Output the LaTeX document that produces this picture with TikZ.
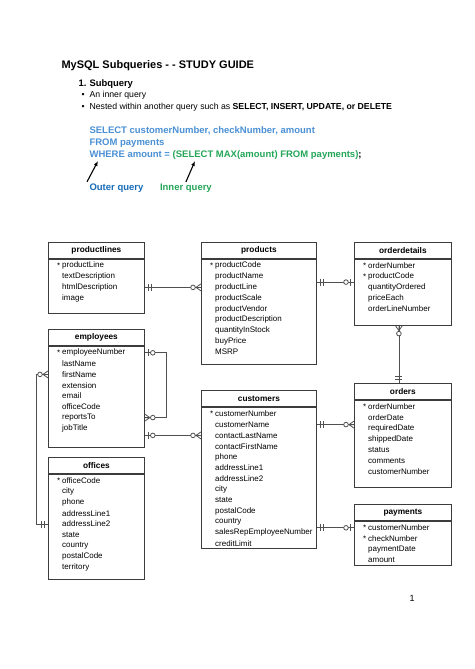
\documentclass[tikz,border=0pt]{standalone}
\usepackage{fontspec}
\setmainfont{Liberation Sans}
\usetikzlibrary{arrows.meta,positioning}
\definecolor{sqlblue}{RGB}{74,144,212}
\definecolor{outerblue}{RGB}{24,108,186}
\definecolor{sqlgreen}{RGB}{36,166,88}
\definecolor{boxgray}{RGB}{60,60,60}
\definecolor{linegray}{RGB}{80,80,80}
\newcommand{\fsz}[1]{\fontsize{#1}{#1}\selectfont}
% rows of a table: node name, number of key fields, field list
\newcommand{\tabrows}[3]{%
  \foreach \f [count=\i] in {#3} {
    \node[field] (#1-\i) at ([xshift=14pt,yshift={3.8-10.8*\i}]#1-b.north west) {\f};
    \ifnum\i>#2\relax\else\node[field,anchor=east] at ([xshift=-1.5pt]#1-\i.west) {*};\fi
  }}

\begin{document}
\begin{tikzpicture}[x=1pt,y=-1pt,>=Latex,
  tabhead/.style={draw=boxgray,line width=0.8pt,anchor=north west,minimum height=16pt,inner sep=0pt,font=\fsz{8.3}\bfseries},
  tabbody/.style={draw=boxgray,line width=0.8pt,inner sep=0pt},
  field/.style={anchor=west,inner sep=0pt,font=\fsz{8}},
  rel/.style={linegray,line width=0.8pt},
  one/.pic={\draw (3.5,-3.5)--(3.5,3.5) (6.5,-3.5)--(6.5,3.5);},
  zone/.pic={\draw (3.5,-3.5)--(3.5,3.5); \draw[fill=white] (8,0) circle (2.3);},
  zmany/.pic={\draw (0,-3.5)--(5,0)--(0,3.5) (0,0)--(5,0); \draw[fill=white] (8,0) circle (2.3);},
  arr/.style={-{Latex[length=5pt,width=4pt]},line width=1.1pt}]
\fill[white] (0,0) rectangle (474,669);

\node[anchor=base west,font=\fsz{11}\bfseries] (title) at (58,68) {MySQL Subqueries - - STUDY GUIDE};
\node[anchor=base west,font=\fsz{9.4}\bfseries] (num) at (75,86.5) {1.};
\node[anchor=base west,font=\fsz{9.4}\bfseries] (sub) at (86,86.5) {Subquery};
\node[anchor=base west,font=\fsz{8.7}] (b1) at (78,97.5) {•};
\node[anchor=base west,font=\fsz{8.7}] (t1) at (86,97.5) {An inner query};
\node[anchor=base west,font=\fsz{8.7}] (b2) at (78,109.5) {•};
\node[anchor=base west,font=\fsz{8.7}] (t2) at (86,109.5) {Nested within another query such as \textbf{SELECT, INSERT, UPDATE, or DELETE}};
\node[anchor=base west,font=\fsz{9.5}\bfseries,sqlblue] (q1) at (86,133.5) {SELECT customerNumber, checkNumber, amount};
\node[anchor=base west,font=\fsz{9.5}\bfseries,sqlblue] (q2) at (86,145) {FROM payments};
\node[anchor=base west,font=\fsz{9.5}\bfseries] (q3) at (86,157) {{\color{sqlblue}WHERE amount = }{\color{sqlgreen}(SELECT MAX(amount) FROM payments)};};
\node[anchor=base west,font=\fsz{9.5}\bfseries,outerblue] (outer) at (86,190) {Outer query};
\node[anchor=base west,font=\fsz{9.5}\bfseries,sqlgreen] (inner) at (156.5,190) {Inner query};
\coordinate (otip) at (98,161);
\coordinate (itip) at (195,161);
\draw[arr] ([xshift=1pt,yshift=-2pt]outer.north west) -- (otip);
\draw[arr] ([yshift=-2pt]inner.north) -- (itip);

\node[tabhead,minimum width=96pt] (plines) at (48,242) {productlines};
\node[tabbody,minimum width=96pt,minimum height=54pt,below=0pt of plines] (plines-b) {};
\tabrows{plines}{1}{productLine,textDescription,htmlDescription,image}

\node[tabhead,minimum width=115pt] (prods) at (201,242) {products};
\node[tabbody,minimum width=115pt,minimum height=105pt,below=0pt of prods] (prods-b) {};
\tabrows{prods}{1}{productCode,productName,productLine,productScale,productVendor,productDescription,quantityInStock,buyPrice,MSRP}

\node[tabhead,minimum width=97pt] (odet) at (354,242) {orderdetails};
\node[tabbody,minimum width=97pt,minimum height=66pt,below=0pt of odet] (odet-b) {};
\tabrows{odet}{2}{orderNumber,productCode,quantityOrdered,priceEach,orderLineNumber}

\node[tabhead,minimum width=96pt] (emps) at (48,329) {employees};
\node[tabbody,minimum width=96pt,minimum height=101pt,below=0pt of emps] (emps-b) {};
\tabrows{emps}{1}{employeeNumber,lastName,firstName,extension,email,officeCode,reportsTo,jobTitle}

\node[tabhead,minimum width=115pt] (custs) at (201,390) {customers};
\node[tabbody,minimum width=115pt,minimum height=141pt,below=0pt of custs] (custs-b) {};
\tabrows{custs}{1}{customerNumber,customerName,contactLastName,contactFirstName,phone,addressLine1,addressLine2,city,state,postalCode,country,salesRepEmployeeNumber,creditLimit}

\node[tabhead,minimum width=97pt] (ords) at (354,383) {orders};
\node[tabbody,minimum width=97pt,minimum height=87pt,below=0pt of ords] (ords-b) {};
\tabrows{ords}{1}{orderNumber,orderDate,requiredDate,shippedDate,status,comments,customerNumber}

\node[tabhead,minimum width=97pt] (pays) at (354,504) {payments};
\node[tabbody,minimum width=97pt,minimum height=44pt,below=0pt of pays] (pays-b) {};
\tabrows{pays}{2}{customerNumber,checkNumber,paymentDate,amount}

\node[tabhead,minimum width=96pt] (offs) at (48,457) {offices};
\node[tabbody,minimum width=96pt,minimum height=105pt,below=0pt of offs] (offs-b) {};
\tabrows{offs}{1}{officeCode,city,phone,addressLine1,addressLine2,state,country,postalCode,territory}

\node[font=\fsz{9}] (pnum) at (412,598) {1};

% relationships
\begin{scope}[rel]
\draw (plines-b.east |- plines-3) -- (prods-b.west |- plines-3);
\pic at (plines-b.east |- plines-3) {one};
\pic[rotate=180] at (prods-b.west |- plines-3) {zmany};
\coordinate (po) at ([yshift=-5.5pt]prods-2.west);
\draw (prods-b.east |- po) -- (odet-b.west |- po);
\pic at (prods-b.east |- po) {one};
\pic[rotate=180] at (odet-b.west |- po) {zone};
\coordinate (oo) at ([xshift=-4pt]odet-b.south);
\draw (oo) -- (ords.north -| oo);
\pic[rotate=-90] at (oo) {zmany};
\pic[rotate=90] at (ords.north -| oo) {one};
\draw (emps-b.east |- emps-1) -- ++(22,0) |- (emps-b.east |- emps-7);
\pic at (emps-b.east |- emps-1) {zone};
\pic at (emps-b.east |- emps-7) {zmany};
\draw (emps-b.east |- custs-3) -- (custs-b.west |- custs-3);
\pic at (emps-b.east |- custs-3) {zone};
\pic[rotate=180] at (custs-b.west |- custs-3) {zmany};
\draw (emps-b.west |- emps-3) -- ++(-12,0) |- (offs-b.west |- offs-5);
\pic[rotate=180] at (emps-b.west |- emps-3) {zmany};
\pic[rotate=180] at (offs-b.west |- offs-5) {one};
\draw (custs-b.east |- custs-2) -- (ords-b.west |- custs-2);
\pic at (custs-b.east |- custs-2) {one};
\pic[rotate=180] at (ords-b.west |- custs-2) {zmany};
\draw (custs-b.east |- pays-1) -- (pays-b.west |- pays-1);
\pic at (custs-b.east |- pays-1) {one};
\pic[rotate=180] at (pays-b.west |- pays-1) {zone};
\end{scope}
\end{tikzpicture}
\end{document}
